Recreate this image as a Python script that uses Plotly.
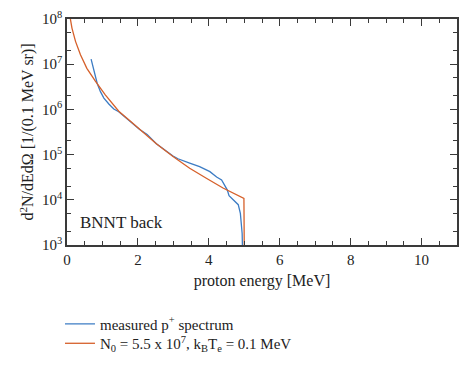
import plotly.graph_objects as go

# measured spectrum (blue)
meas_E = [0.68, 0.71, 0.77, 0.85, 0.94, 1.04, 1.18, 1.32, 1.46, 1.79, 2.05, 2.26, 2.52, 2.99, 3.13,
          3.46, 3.74, 4.03, 4.22, 4.36, 4.45, 4.52, 4.57, 4.68, 4.83, 4.89, 4.92, 4.94, 4.95]
meas_N = [1.29e7, 1.05e7, 6.3e6, 3.8e6, 2.5e6, 1.78e6, 1.32e6, 1.02e6, 8.9e5, 5.5e5, 3.6e5, 2.8e5, 1.74e5, 9.3e4, 8.1e4,
          6.5e4, 5.4e4, 4.2e4, 3.2e4, 2.75e4, 2.15e4, 1.66e4, 1.23e4, 1.0e4, 7.8e3, 5.0e3, 3.0e3, 1.8e3, 8.0e2]

# fit (orange)
fit_E = [0.05, 0.08, 0.14, 0.24, 0.38, 0.56, 0.80, 1.08, 1.46, 1.79, 2.05, 2.52, 2.99, 3.46, 3.93, 4.40, 4.99, 5.00]
fit_N = [1.6e8, 1.2e8, 6.3e7, 3.2e7, 1.62e7, 8.1e6, 4.2e6, 2.1e6, 9.1e5, 5.5e5, 3.7e5, 1.74e5, 9.1e4, 5.0e4, 3.0e4, 1.82e4, 1.07e4, 8.0e2]

y_tickvals = [1e3, 1e4, 1e5, 1e6, 1e7, 1e8]
y_ticktext = ["10<sup>3</sup>", "10<sup>4</sup>", "10<sup>5</sup>", "10<sup>6</sup>", "10<sup>7</sup>", "10<sup>8</sup>"]
x_tickvals = [0, 2, 4, 6, 8, 10]

BLUE = "#3c7cc4"
ORANGE = "#d6602a"
AX = "#3a3a3a"
FONT = "Liberation Serif"

fig = go.Figure()
fig.add_trace(go.Scatter(x=meas_E, y=meas_N, mode="lines", name="measured p<sup>+</sup> spectrum",
                         line=dict(color=BLUE, width=1.3), legend="legend"))
fig.add_trace(go.Scatter(x=fit_E, y=fit_N, mode="lines",
                         name="N<sub>0</sub> = 5.5 x 10<sup>7</sup>, k<sub>B</sub>T<sub>e</sub> = 0.1 MeV",
                         line=dict(color=ORANGE, width=1.3), legend="legend2"))

fig.add_annotation(x=0.38, y=3.5, xref="x", yref="y", text="BNNT back", showarrow=False,
                   xanchor="left", yanchor="middle", xshift=-2, font=dict(size=17, color="#222"))

leg_common = dict(xanchor="left", yanchor="middle", bgcolor="rgba(0,0,0,0)",
                  font=dict(size=15, color="#222"), itemwidth=30)

fig.update_layout(
    width=474, height=370,
    margin=dict(l=59, r=25, t=11, b=133, autoexpand=False),
    paper_bgcolor="white", plot_bgcolor="white",
    font=dict(family=FONT, size=14, color="#222"),
    showlegend=True,
    legend=dict(x=-0.018, y=-0.350, **leg_common),
    legend2=dict(x=-0.018, y=-0.436, **leg_common),
    xaxis=dict(range=[0, 11], tickvals=x_tickvals, ticks="inside", ticklen=7, tickwidth=1.3,
               tickcolor=AX, showline=True, linecolor=AX, linewidth=1.5, mirror="ticks",
               showgrid=False, zeroline=False, automargin=False,
               minor=dict(dtick=0.5, ticks="inside", ticklen=4, tickwidth=1.2, tickcolor=AX, showgrid=False),
               title=dict(text="proton energy [MeV]", standoff=8, font=dict(size=16)),
               tickfont=dict(size=15)),
    yaxis=dict(type="log", range=[3, 8], tickvals=y_tickvals, ticktext=y_ticktext,
               ticks="inside", ticklen=7, tickwidth=1.3, tickcolor=AX,
               showline=True, linecolor=AX, linewidth=1.5, mirror="ticks",
               showgrid=False, zeroline=False, automargin=False,
               minor=dict(ticks="inside", ticklen=4, tickwidth=1.0, tickcolor=AX, showgrid=False),
               title=dict(text="d<sup>2</sup>N/dEdΩ [1/(0.1 MeV sr)]", standoff=4, font=dict(size=16)),
               tickfont=dict(size=15)),
)

fig.write_html("out.html")
